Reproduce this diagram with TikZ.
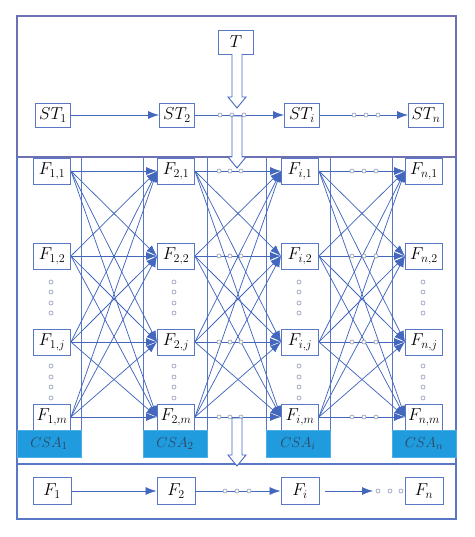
\documentclass[tikz,border=0pt]{standalone}
\usetikzlibrary{arrows.meta,backgrounds}
\definecolor{ln}{HTML}{4467BE}
\definecolor{bx}{HTML}{5878C6}
\definecolor{fr}{HTML}{6E70B4}
\definecolor{csafill}{HTML}{1F9BDE}
\definecolor{csatext}{HTML}{2E4660}
\definecolor{dotc}{HTML}{8C96B4}
\begin{document}
\begin{tikzpicture}[x=1pt,y=-1pt,
  fbox/.style={draw=bx, line width=0.9pt, fill=white, minimum width=37pt, minimum height=26pt, inner sep=1.5pt, font=\fontsize{16.5}{18}\selectfont},
  stbox/.style={draw=bx, line width=0.9pt, fill=white, minimum width=35pt, minimum height=24pt, inner sep=1.5pt, font=\fontsize{16.5}{18}\selectfont},
  csabox/.style={draw=csafill!80!white, line width=0.6pt, fill=csafill, minimum width=64pt, minimum height=27pt, inner sep=0pt, text=csatext, font=\fontsize{15}{17}\selectfont},
  conn/.style={draw=ln, line width=0.75pt, -{Latex[length=11pt,width=8pt]}},
  colrect/.style={draw=bx, line width=0.8pt},
  hollow/.style={draw=ln, line width=0.9pt, fill=white},
  pdot/.style={draw=dotc, fill=white, line width=0.6pt},
]
\useasboundingbox (0,0) rectangle (474,537);

% frames
\draw[fr, line width=1.1pt] (17,16) rectangle (456,157);
\draw[bx, line width=1.1pt] (17,157) -- (17,519) -- (456,519) -- (456,157);
\draw[bx, line width=1.1pt] (17,464) -- (456,464);

% top row
\node[stbox] (T) at (236,42) {$T$};
\node[stbox] (st1) at (53,115) {$ST_1$};
\node[stbox] (st2) at (177,115) {$ST_2$};
\node[stbox] (sti) at (302,115) {$ST_i$};
\node[stbox] (stn) at (426,115) {$ST_n$};
\draw[conn] (st1) -- (st2);
\draw[conn] (st2) -- (sti);
\draw[conn] (sti) -- (stn);
\foreach \x in {220,232,244} \draw[pdot] (\x,115) circle (2);
\foreach \x in {354,366,378} \draw[pdot] (\x,115) circle (2);

% F matrix
\foreach \c/\x in {1/52, 2/176, i/300, n/424}
  \foreach \r/\y in {1/171, 2/256, j/342, m/417}
    \node[fbox] (F-\c-\r) at (\x,\y) {$F_{\c,\r}$};

\begin{pgfonlayer}{background}
  \foreach \l/\r in {17/81, 143/207, 266/330, 392/456}
    \draw[colrect] (\l,157) rectangle (\r,457);
  \foreach \a/\b in {1/2, 2/i, i/n}
    \foreach \r in {1,2,j,m}
      \foreach \s in {1,2,j,m}
        \draw[conn] (F-\a-\r.east) -- (F-\b-\s.west);
\end{pgfonlayer}

% dots on horizontal connectors
\foreach \y in {171,256,342,417} {
  \foreach \x in {219,230,241} \draw[pdot] (\x,\y) circle (2);
  \foreach \x in {352,364,376} \draw[pdot] (\x,\y) circle (2);
}
% vertical dots
\foreach \x in {51,174,299,423}
  \foreach \y in {282,292,303,313,366,377,387,398}
    \draw[pdot] (\x,\y) circle (2);

% CSA boxes
\node[csabox] (csa1) at (49,443.5) {$CSA_1$};
\node[csabox] (csa2) at (175,443.5) {$CSA_2$};
\node[csabox] (csai) at (298,443.5) {$CSA_i$};
\node[csabox] (csan) at (424,443.5) {$CSA_n$};

% hollow arrows
\draw[hollow] (232,54) -- (232,97) -- (228,97) -- (237,108) -- (246,97) -- (242,97) -- (242,54);
\draw[hollow] (232,116) -- (232,157) -- (228,157) -- (237,168) -- (246,157) -- (242,157) -- (242,116) -- cycle;
\draw[hollow] (232,418) -- (232,455) -- (228,455) -- (237,466) -- (246,455) -- (242,455) -- (242,418) -- cycle;

% bottom row
\node[fbox, minimum height=27pt, minimum width=38pt] (b1) at (52,491) {$F_1$};
\node[fbox, minimum height=27pt, minimum width=38pt] (b2) at (176,491) {$F_2$};
\node[fbox, minimum height=27pt, minimum width=38pt] (bi) at (300,491) {$F_i$};
\node[fbox, minimum height=27pt, minimum width=38pt] (bn) at (424,491) {$F_n$};
\coordinate (bend) at (373,491);
\draw[conn] (b1) -- (b2);
\draw[conn] (b2) -- (bi);
\draw[conn, shorten <=6pt] (bi) -- (bend);
\foreach \x in {225,237,249} \draw[pdot] (\x,491) circle (2);
\foreach \x in {378,390,401} \draw[pdot] (\x,491) circle (2);
\end{tikzpicture}
\end{document}
